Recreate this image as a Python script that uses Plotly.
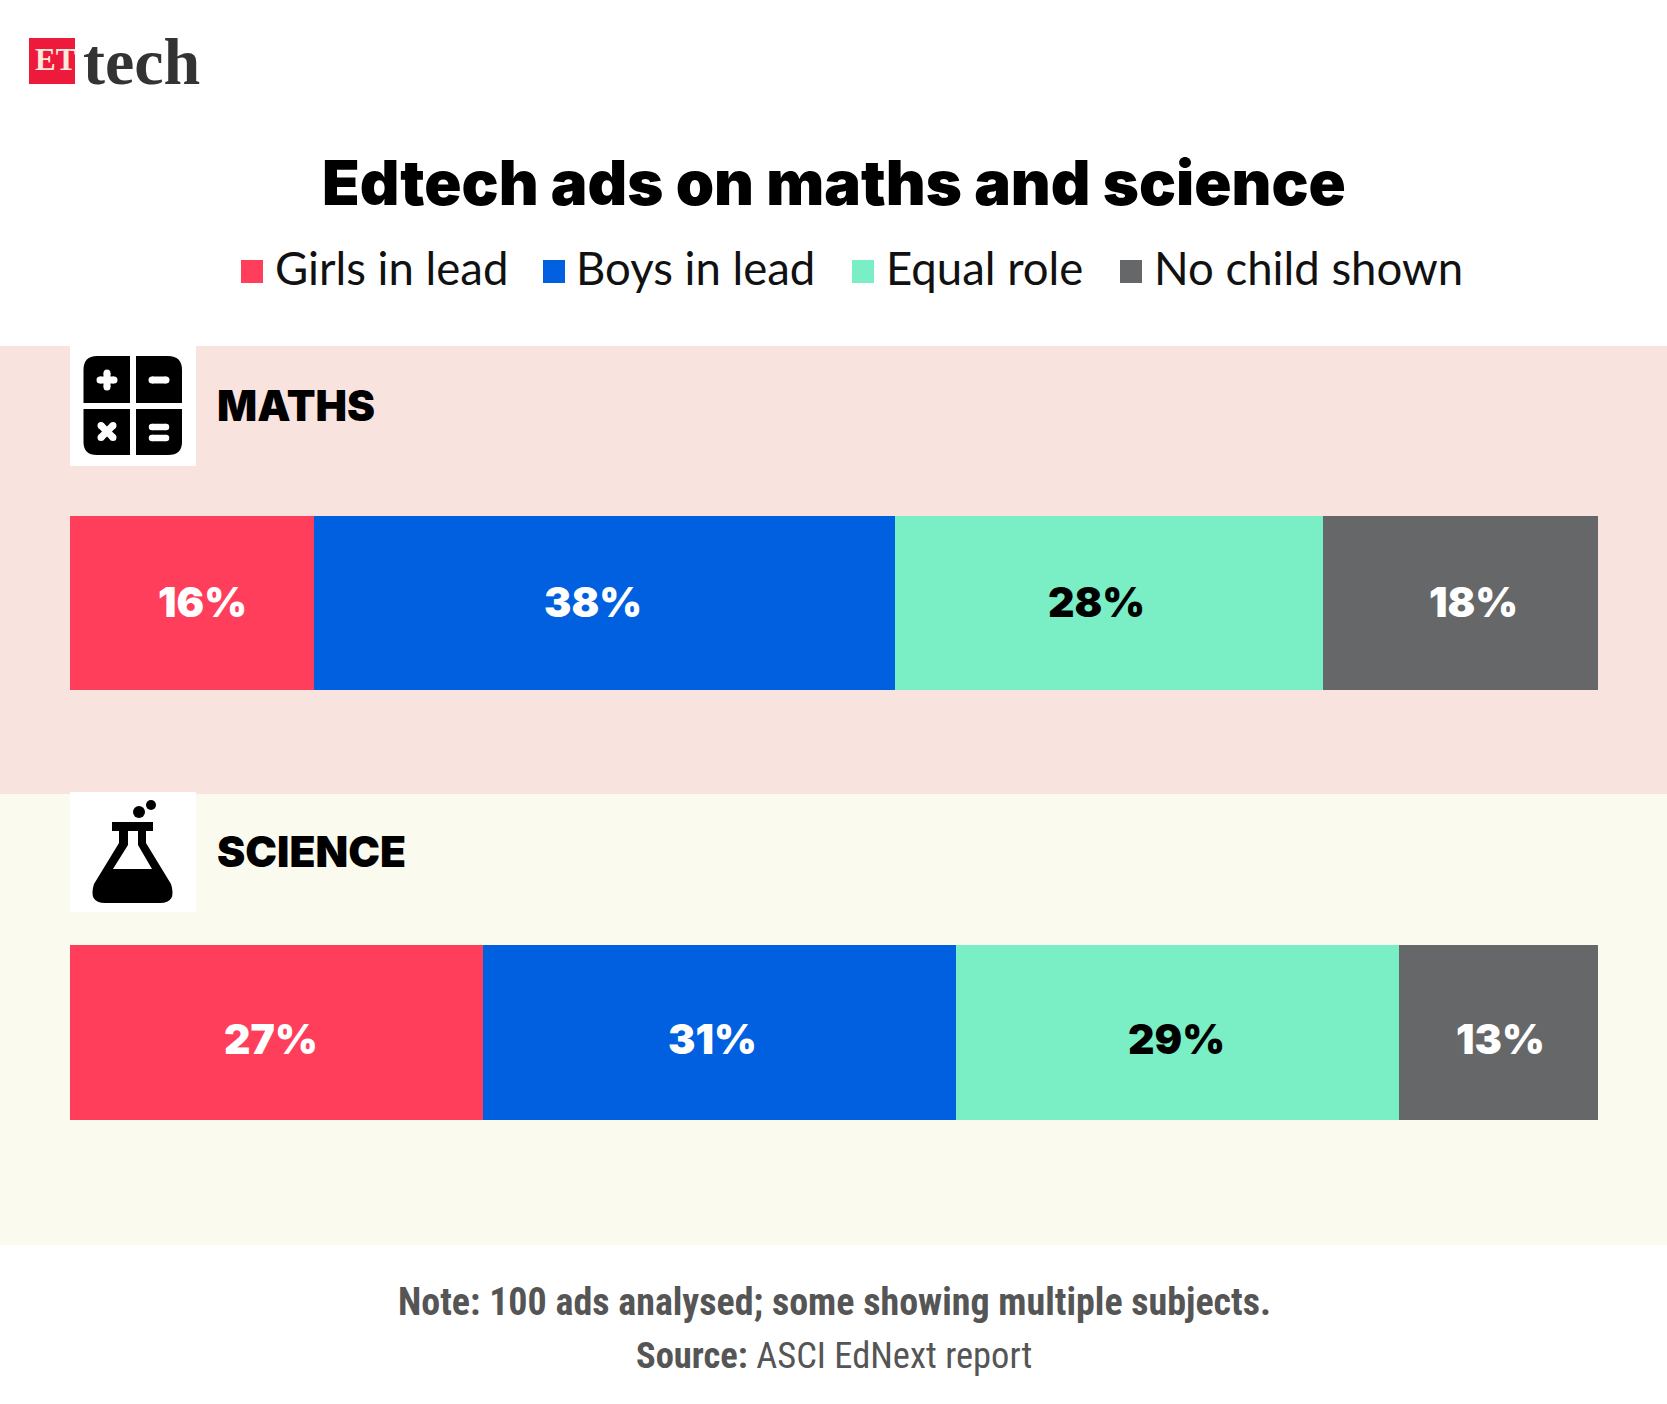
import plotly.graph_objects as go

W, H = 1667, 1404

# Chart data
subjects = ["MATHS", "SCIENCE"]
series_names = ["Girls in lead", "Boys in lead", "Equal role", "No child shown"]
girls = [16, 27]
boys = [38, 31]
equal = [28, 29]
no_child = [18, 13]
series_values = [girls, boys, equal, no_child]

RED, BLUE, GREEN, GREY = "#FF3E5C", "#0060DF", "#7AEEC4", "#666768"
series_colors = [RED, BLUE, GREEN, GREY]
label_colors = ["white", "white", "black", "white"]
# Horizontal nudge (px) of each value label from its segment centre
label_shift = [[10, -12, -13, 13], [-5, -7, -1, 2]]
label_yshift = [1, -7]

HEAVY = "Inter"
BODY = "Lato"
NOTE = "Roboto Condensed, Lato"


def px(x, y):
    return x / W, 1 - y / H


def rect(x0, y0, x1, y1, color, layer="above"):
    a, b = px(x0, y0)
    c, d = px(x1, y1)
    return dict(type="rect", xref="paper", yref="paper", x0=a, y0=b, x1=c, y1=d,
                fillcolor=color, line_width=0, layer=layer)


def path(cmds, color):
    """Build a filled shape from (command, x, y, ...) tuples given in page pixels."""
    parts = []
    for c in cmds:
        if len(c) == 1:
            parts.append(c[0])
            continue
        nums = []
        for i in range(1, len(c), 2):
            a, b = px(c[i], c[i + 1])
            nums.append(f"{a:.6f},{b:.6f}")
        parts.append(c[0] + " ".join(nums))
    return dict(type="path", xref="paper", yref="paper", path=" ".join(parts),
                fillcolor=color, line_width=0, layer="above")


def circle(cx, cy, r, color):
    a, b = px(cx - r, cy - r)
    c, d = px(cx + r, cy + r)
    return dict(type="circle", xref="paper", yref="paper", x0=a, y0=b, x1=c, y1=d,
                fillcolor=color, line_width=0, layer="above")


def stroke(x0, y0, x1, y1, width, color="white"):
    """White glyph stroke with rounded ends."""
    a, b = px(x0, y0)
    c, d = px(x1, y1)
    return [
        dict(type="line", xref="paper", yref="paper", x0=a, y0=b, x1=c, y1=d,
             line=dict(color=color, width=width), layer="above"),
        circle(x0, y0, width / 2, color),
        circle(x1, y1, width / 2, color),
    ]


def text(x, y, s, size, color="black", family=BODY, weight=400, anchor="left"):
    a, b = px(x, y)
    return dict(xref="paper", yref="paper", x=a, y=b, text=s, showarrow=False,
                xanchor=anchor, yanchor="middle",
                font=dict(size=size, color=color, family=family, weight=weight))


fig = go.Figure()
for name, values, color in zip(series_names, series_values, series_colors):
    fig.add_trace(go.Bar(
        name=name, y=subjects, x=values, orientation="h",
        marker=dict(color=color, line_width=0), width=0.406, hoverinfo="name+x",
    ))

shapes = [
    # Subject bands
    rect(0, 346, W, 794, "#F8E3DE", "below"),
    rect(0, 794, W, 1245, "#FAFAEF", "below"),
    # Logo block
    rect(29, 38, 75, 84, "#ED1A3B"),
    # Icon tiles
    rect(70, 346, 196, 466, "white"),
    rect(70, 792, 196, 912, "white"),
]

# Calculator icon: four keys with rounded outer corners
shapes += [
    path([("M", 83.5, 370), ("Q", 83.5, 356, 97, 356), ("L", 130, 356), ("L", 130, 403), ("L", 83.5, 403), ("Z",)], "black"),
    path([("M", 136, 356), ("L", 168, 356), ("Q", 182, 356, 182, 370), ("L", 182, 403), ("L", 136, 403), ("Z",)], "black"),
    path([("M", 83.5, 409), ("L", 130, 409), ("L", 130, 455), ("L", 97, 455), ("Q", 83.5, 455, 83.5, 442), ("Z",)], "black"),
    path([("M", 136, 409), ("L", 182, 409), ("L", 182, 442), ("Q", 182, 455, 168, 455), ("L", 136, 455), ("Z",)], "black"),
]
for seg in [
    (100, 380, 114, 380, 7), (107, 373, 107, 387, 7),
    (152, 380, 166, 380, 7),
    (101, 425.5, 113, 437.5, 7), (101, 437.5, 113, 425.5, 7),
    (152, 427, 166, 427, 6.5), (152, 438, 166, 438, 6.5),
]:
    shapes += stroke(*seg)

# Flask icon
shapes += [
    rect(112, 822, 153, 831, "black"),
    path([("M", 119, 831), ("L", 146, 831), ("L", 146, 843), ("L", 171, 884),
          ("Q", 177, 903, 160, 903), ("L", 105, 903), ("Q", 88, 903, 94, 884),
          ("L", 119, 843), ("Z",)], "black"),
    path([("M", 128, 831), ("L", 138, 831), ("L", 138, 845), ("L", 152, 869),
          ("L", 113, 869), ("L", 128, 845), ("Z",)], "white"),
    circle(139, 812, 6, "black"),
    circle(151, 805, 5, "black"),
]

# Legend swatches
swatch_x = [241, 543, 852, 1120]
label_x = [273, 574, 884, 1152]
for x, color in zip(swatch_x, series_colors):
    shapes.append(rect(x, 260, x + 22, 283, color))

annotations = [
    text(834, 182, "Edtech ads on maths and science", 61.5, family=HEAVY, weight=900, anchor="center"),
    text(33, 60, "ET", 31, color="#FBE9DD", family="Liberation Serif", weight=700),
    text(81, 62, "tech", 66, color="#333333", family="Liberation Serif", weight=700),
    text(215, 406, "MATHS", 42, family=HEAVY, weight=900),
    text(215, 851, "SCIENCE", 42.5, family=HEAVY, weight=900),
    text(834, 1302, "<b>Note: 100 ads analysed; some showing multiple subjects.</b>", 38,
         color="#555555", family=NOTE, anchor="center"),
    text(834, 1355, "<b>Source:</b> ASCI EdNext report", 36.5, color="#555555", family=NOTE, anchor="center"),
]
for x, name in zip(label_x, series_names):
    annotations.append(text(x, 267, name, 45.5, color="#111111"))

# Value labels positioned from the same values as the bars
for row, subject in enumerate(subjects):
    start = 0
    for col, values in enumerate(series_values):
        v = values[row]
        annotations.append(dict(
            xref="x", yref="y", x=start + v / 2, y=subject, text=f"{v}%", showarrow=False,
            xshift=label_shift[row][col], yshift=label_yshift[row],
            font=dict(size=41, color=label_colors[col], family=HEAVY, weight=900),
        ))
        start += v

fig.update_layout(
    width=W, height=H, autosize=False,
    margin=dict(l=0, r=0, t=0, b=0),
    paper_bgcolor="white", plot_bgcolor="rgba(0,0,0,0)",
    barmode="stack", bargap=0, showlegend=False,
    shapes=shapes, annotations=annotations,
    # Full-height y axis: 429.5 px between the two category rows
    yaxis=dict(type="category", categoryorder="array", categoryarray=subjects,
               domain=[0, 1], range=[1.865, -1.404], visible=False, fixedrange=True),
    xaxis=dict(domain=[70 / W, 1598 / W], range=[0, 100], visible=False, fixedrange=True),
)

fig.write_html("out.html", config={"displayModeBar": False})
